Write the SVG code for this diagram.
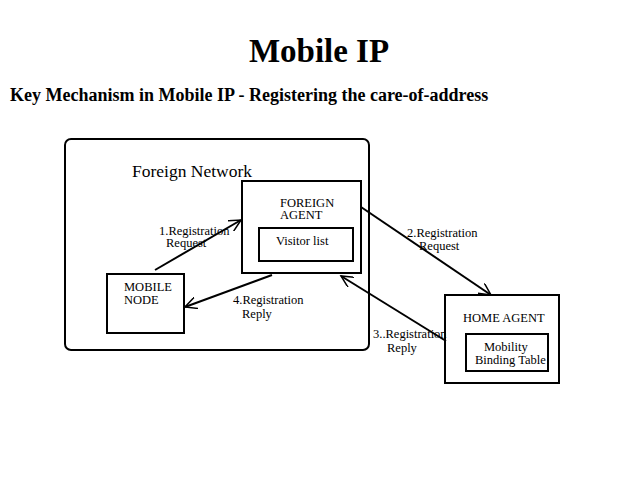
<svg xmlns="http://www.w3.org/2000/svg" width="638" height="478" viewBox="0 0 638 478">
<style>
.t{font-family:"Liberation Serif",serif;fill:#000}
.b{fill:#fff;stroke:#000;stroke-width:2}
.c{stroke:#000;stroke-width:2;fill:none;marker-end:url(#a)}
.s{font-size:12.5px}
</style>
<defs><marker id="a" markerWidth="14" markerHeight="12" refX="12" refY="6" orient="auto" markerUnits="userSpaceOnUse"><path d="M0,0 L12,6 L0,12" fill="none" stroke="#000" stroke-width="1.5"/></marker></defs>
<rect width="638" height="478" fill="#fff"/>
<text class="t" x="319" y="62" text-anchor="middle" font-size="33" font-weight="bold">Mobile IP</text>
<text class="t" x="10" y="101" font-size="18" font-weight="bold">Key Mechanism in Mobile IP - Registering the care-of-address</text>
<g id="foreign-network"><rect class="b" x="65" y="139" width="304" height="211" rx="6"/><text class="t" x="132" y="177" font-size="17.5">Foreign  Network</text></g>
<g id="foreign-agent"><rect class="b" x="242" y="181" width="119" height="92"/><text class="t s" x="280" y="207">FOREIGN</text><text class="t s" x="280" y="219">AGENT</text><rect class="b" x="259" y="228" width="94" height="33"/><text class="t s" x="276" y="245">Visitor list</text></g>
<g id="mobile-node"><rect class="b" x="107" y="274" width="77" height="59"/><text class="t s" x="124" y="291">MOBILE</text><text class="t s" x="124" y="304">NODE</text></g>
<g id="home-agent"><rect class="b" x="445" y="295" width="114" height="88"/><text class="t s" x="463" y="322">HOME AGENT</text><rect class="b" x="466" y="334" width="82" height="37"/><text class="t s" x="484" y="351">Mobility</text><text class="t s" x="475" y="364">Binding Table</text></g>
<g id="connectors">
<line class="c" x1="155" y1="270" x2="241" y2="220"/>
<line class="c" x1="361" y1="207" x2="491" y2="295"/>
<line class="c" x1="446" y1="341" x2="341" y2="276"/>
<line class="c" x1="272" y1="275" x2="185" y2="307"/>
<text class="t s" x="159" y="235">1.Registration</text><text class="t s" x="166" y="247">Request</text>
<text class="t s" x="407" y="237">2.Registration</text><text class="t s" x="419" y="250">Request</text>
<text class="t s" x="373" y="338">3..Registration</text><text class="t s" x="387" y="352">Reply</text>
<text class="t s" x="233" y="304">4.Registration</text><text class="t s" x="242" y="318">Reply</text>
</g>
</svg>
